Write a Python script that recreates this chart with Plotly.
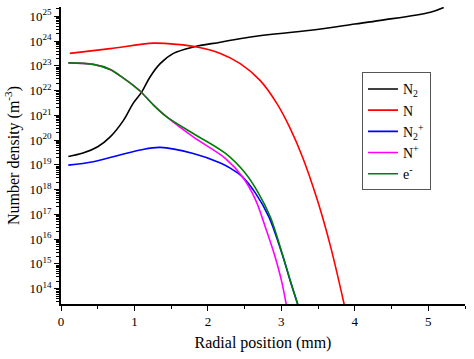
import plotly.graph_objects as go

# ---- data ----
x_n2 = [0.10, 0.30, 0.50, 0.67, 0.85, 0.98, 1.10, 1.21, 1.35, 1.53, 1.80, 2.17, 2.58, 3.40, 4.00, 4.35, 5.03, 5.21]
y_n2 = [2.2e19, 3.0e19, 5.4e19, 1.35e20, 6.3e20, 3.0e21, 8.9e21, 3.5e22, 1.23e23, 3.2e23, 5.8e23, 9.1e23,
        1.48e24, 2.75e24, 4.9e24, 6.9e24, 1.48e25, 2.3e25]

x_n = [0.12, 0.67, 1.26, 1.58, 1.85, 2.17, 2.44, 2.71, 2.94, 3.12, 3.29, 3.49, 3.67, 3.86]
y_n = [3.2e23, 5.0e23, 8.3e23, 7.4e23, 5.8e23, 3.2e23, 1.23e23, 2.6e22, 3.0e21, 3.0e20, 2.0e19,
       3.8e17, 5.0e15, 2.0e13]

x_n2p = [0.10, 0.44, 0.80, 1.08, 1.35, 1.80, 2.17, 2.31, 2.47, 2.65, 2.83, 3.01, 3.12, 3.23]
y_n2p = [9.8e18, 1.35e19, 2.5e19, 4.0e19, 5.1e19, 2.9e19, 1.2e19, 7.2e18, 3.3e18, 7.1e17, 7.9e16,
         2.5e15, 2.1e14, 2.0e13]

x_np = [0.10, 0.44, 0.67, 0.85, 1.00, 1.08, 1.26, 1.44, 1.80, 2.24, 2.47, 2.65, 2.78, 2.90, 3.00, 3.07]
y_np = [1.32e23, 1.15e23, 7.2e22, 3.2e22, 1.5e22, 9.5e21, 2.6e21, 8.7e20, 1.35e20, 1.8e19, 3.3e18,
        3.8e17, 3.2e16, 2.7e15, 2.2e14, 2.0e13]

x_e = [0.10, 0.44, 0.67, 0.85, 1.00, 1.08, 1.26, 1.44, 1.80, 2.24, 2.51, 2.69, 2.85, 3.01, 3.12, 3.23]
y_e = [1.32e23, 1.15e23, 7.2e22, 3.2e22, 1.5e22, 9.5e21, 2.6e21, 8.7e20, 1.86e20, 2.9e19, 4.6e18,
       7.1e17, 7.9e16, 2.7e15, 2.2e14, 2.0e13]

names = ["N<sub>2</sub>", "N", "N<sub>2</sub><sup>+</sup>", "N<sup>+</sup>", "e<sup>-</sup>"]
colors = ["#000000", "#ff0000", "#0000ff", "#ff00ff", "#008000"]

y_tick_vals = [1e14, 1e15, 1e16, 1e17, 1e18, 1e19, 1e20, 1e21, 1e22, 1e23, 1e24, 1e25]
y_tick_text = ["10<sup>14</sup>", "10<sup>15</sup>", "10<sup>16</sup>", "10<sup>17</sup>",
               "10<sup>18</sup>", "10<sup>19</sup>", "10<sup>20</sup>", "10<sup>21</sup>",
               "10<sup>22</sup>", "10<sup>23</sup>", "10<sup>24</sup>", "10<sup>25</sup>"]
x_tick_vals = [0, 1, 2, 3, 4, 5]

FONT = "Liberation Serif"

fig = go.Figure()
series = [(x_n2, y_n2), (x_n, y_n), (x_n2p, y_n2p), (x_np, y_np), (x_e, y_e)]
for (xs, ys), nm, c in zip(series, names, colors):
    fig.add_trace(go.Scatter(x=xs, y=ys, mode="lines", name=nm,
                             line=dict(color=c, width=1.6, shape="spline", smoothing=1.0)))

fig.update_layout(
    width=474, height=359,
    margin=dict(l=61, r=9, t=7, b=55),
    paper_bgcolor="white", plot_bgcolor="white",
    font=dict(family=FONT, color="black", size=13),
    showlegend=True,
    legend=dict(x=0.745, y=0.78, xanchor="left", yanchor="top",
                bordercolor="#555555", borderwidth=1, bgcolor="white",
                font=dict(family=FONT, size=14), tracegroupgap=0, itemwidth=30),
)
fig.update_xaxes(
    range=[0, 5.5], showline=True, linecolor="black", linewidth=1.5, automargin=False,
    ticks="outside", ticklen=5, tickwidth=1.2, tickcolor="black",
    tickvals=x_tick_vals, showgrid=False, zeroline=False,
    tickfont=dict(family=FONT, size=13),
    minor=dict(ticks="outside", ticklen=3, tickcolor="black", dtick=0.5, showgrid=False),
    title=dict(text="Radial position (mm)", font=dict(family=FONT, size=16), standoff=8),
)
fig.update_yaxes(
    type="log", range=[13.38, 25.38], showline=True, linecolor="black", linewidth=1.5, automargin=False,
    ticks="outside", ticklen=5, tickwidth=1.2, tickcolor="black",
    tickvals=y_tick_vals, ticktext=y_tick_text, showgrid=False, zeroline=False,
    tickfont=dict(family=FONT, size=13),
    minor=dict(ticks="outside", ticklen=3, tickcolor="black", dtick="D1", showgrid=False),
    title=dict(text="Number density (m<sup>-3</sup>)", font=dict(family=FONT, size=16), standoff=6),
)

fig.write_html("out.html", config={"displayModeBar": False},
               post_script="document.body.style.margin='0';")
